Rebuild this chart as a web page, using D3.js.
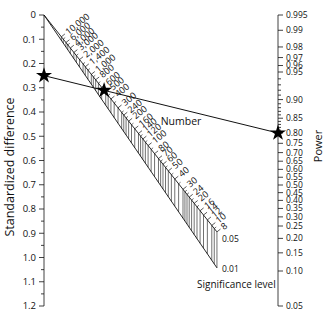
<!DOCTYPE html>
<html>
  <head>
    <meta charset="utf-8">
    <title>Nomogram</title>
    <script src="https://d3js.org/d3.v7.min.js"></script>
    <style>
      body { margin: 0; background: #fff; }
      text { font-family: "Open Sans", "Noto Sans", sans-serif; fill: #111; }
    </style>
  </head>
  <body>
    <div id="chart"></div>
    <script>
        // tick values
        var deltaTicks = [0, 0.1, 0.2, 0.3, 0.4, 0.5, 0.6, 0.7, 0.8, 0.9, 1.0, 1.1, 1.2];
        var deltaMinor = [0.05, 0.15, 0.25, 0.35, 0.45, 0.55, 0.65, 0.75, 0.85, 0.95, 1.05, 1.15];
        var powerTicks = [0.995, 0.99, 0.98, 0.97, 0.96, 0.95, 0.90, 0.85, 0.80, 0.75, 0.70, 0.65,
                          0.60, 0.55, 0.50, 0.45, 0.40, 0.35, 0.30, 0.25, 0.20, 0.15, 0.10, 0.05];
        var powerMinor = [0.94, 0.93, 0.92, 0.91, 0.89, 0.88, 0.87, 0.86, 0.84, 0.83, 0.82, 0.81];
        var nLabels = [10000, 6000, 4000, 3000, 2000, 1400, 1000, 800, 600, 500, 400, 300, 240, 200,
                       160, 140, 120, 100, 80, 70, 60, 50, 40, 30, 24, 20, 16, 14, 12, 10, 8];
        var nMinor = [8000, 5000, 2500, 1600, 1200, 900, 700, 450, 350, 260, 220, 180, 130, 110, 90,
                      65, 55, 45, 35, 28, 26, 22, 18, 9];
        var alphaLevels = ["0.05", "0.01"];
        var exampleDelta = 0.25;
        var examplePower = 0.80;

        var width = 333, height = 318;
        var xL = 44, xR = 278, yTop = 15, yBot = 306;

        // inverse normal cdf, used for the power axis
        function probit(p) {
            var a = [-39.69683028665376, 220.9460984245205, -275.9285104469687, 138.3577518672690, -30.66479806614716, 2.506628277459239];
            var b = [-54.47609879822406, 161.5858368580409, -155.6989798598866, 66.80131188771972, -13.28068155288572];
            var c = [-0.007784894002430293, -0.3223964580411365, -2.400758277161838, -2.549732539343734, 4.374664141464968, 2.938163982698783];
            var d = [0.007784695709041462, 0.3224671290700398, 2.445134137142996, 3.754408661907416];
            var q, r;
            if (p < 0.02425) {
                q = Math.sqrt(-2 * Math.log(p));
                return (((((c[0]*q+c[1])*q+c[2])*q+c[3])*q+c[4])*q+c[5]) / ((((d[0]*q+d[1])*q+d[2])*q+d[3])*q+1);
            }
            if (p > 1 - 0.02425) {
                q = Math.sqrt(-2 * Math.log(1 - p));
                return -(((((c[0]*q+c[1])*q+c[2])*q+c[3])*q+c[4])*q+c[5]) / ((((d[0]*q+d[1])*q+d[2])*q+d[3])*q+1);
            }
            q = p - 0.5; r = q * q;
            return (((((a[0]*r+a[1])*r+a[2])*r+a[3])*r+a[4])*r+a[5])*q / (((((b[0]*r+b[1])*r+b[2])*r+b[3])*r+b[4])*r+1);
        }

        var yDelta = d3.scaleLinear().domain([0, 1.2]).range([yTop, yBot]);
        // power axis is roughly probit; calibrated piecewise to the drawn scale
        var zScale = d3.scaleLinear()
            .domain([0.995, 0.95, 0.80, 0.50, 0.25, 0.10, 0.05].map(probit))
            .range([yTop, 72, 133, 185, 226, 271, yBot]);
        var yPower = function(p) { return zScale(probit(p)); };

        // N scale: fraction along the way from left to right axis
        var kN = 0.1248;
        var xN = d3.scaleLinear().domain([0, 1]).range([xL, xR]);
        var nx = function(n) { return xN(1 / (1 + kN * Math.sqrt(n))); };
        var slope = {"0.05": 1.254, "0.01": 1.462};
        var ny = function(n, a) { return yTop + slope[a] * (nx(n) - xL); };

        var svg = d3.select("#chart").append("svg")
            .attr("width", width)
            .attr("height", height);

        // left axis
        var gl = svg.append("g").attr("stroke", "#111").attr("stroke-width", 0.8);
        gl.append("line").attr("x1", xL).attr("x2", xL).attr("y1", yTop).attr("y2", yBot);
        gl.selectAll(".maj").data(deltaTicks).enter().append("line")
            .attr("x1", xL - 5).attr("x2", xL)
            .attr("y1", d => yDelta(d)).attr("y2", d => yDelta(d));
        gl.selectAll(".min").data(deltaMinor).enter().append("line")
            .attr("x1", xL - 3).attr("x2", xL)
            .attr("y1", d => yDelta(d)).attr("y2", d => yDelta(d));
        svg.selectAll(".dl").data(deltaTicks).enter().append("text")
            .attr("x", xL - 8).attr("y", d => yDelta(d)).attr("dy", "0.35em")
            .attr("text-anchor", "end").style("font-size", "9.5px")
            .text(d => d === 0 ? "0" : d.toFixed(1));
        svg.append("text")
            .attr("transform", "translate(14," + 167 + ") rotate(-90)")
            .attr("text-anchor", "middle").style("font-size", "12.5px")
            .text("Standardized difference");

        // right axis
        var gr = svg.append("g").attr("stroke", "#111").attr("stroke-width", 0.8);
        gr.append("line").attr("x1", xR).attr("x2", xR).attr("y1", yTop).attr("y2", yBot);
        gr.selectAll(".maj").data(powerTicks).enter().append("line")
            .attr("x1", xR).attr("x2", xR + 5)
            .attr("y1", d => yPower(d)).attr("y2", d => yPower(d));
        gr.selectAll(".min").data(powerMinor).enter().append("line")
            .attr("x1", xR).attr("x2", xR + 3)
            .attr("y1", d => yPower(d)).attr("y2", d => yPower(d));
        svg.selectAll(".pl").data(powerTicks).enter().append("text")
            .attr("x", xR + 8).attr("y", d => yPower(d)).attr("dy", "0.35em")
            .style("font-size", "8.5px")
            .text(d => d === 0.995 ? "0.995" : d.toFixed(2));
        svg.append("text")
            .attr("transform", "translate(322," + 146 + ") rotate(-90)")
            .attr("text-anchor", "middle").style("font-size", "11px")
            .text("Power");

        // N lines and hatching
        var allN = nLabels.concat(nMinor);
        var nEnd = d3.min(nLabels);
        var gn = svg.append("g").attr("stroke", "#111").attr("fill", "none");
        alphaLevels.forEach(function(a) {
            gn.append("line").attr("stroke-width", 0.9)
                .attr("x1", xL).attr("y1", yTop)
                .attr("x2", nx(nEnd)).attr("y2", ny(nEnd, a));
        });
        gn.selectAll(".hatch").data(allN).enter().append("line")
            .attr("stroke-width", 0.6)
            .attr("x1", d => nx(d)).attr("x2", d => nx(d))
            .attr("y1", d => ny(d, "0.05")).attr("y2", d => ny(d, "0.01"));

        // ticks and labels along the 0.05 line (normal points up-right)
        var ang = Math.atan(slope["0.05"]);
        var nxN = Math.sin(ang), nyN = -Math.cos(ang);
        var rot = ang * 180 / Math.PI - 90;
        gn.selectAll(".nt").data(nLabels).enter().append("line")
            .attr("stroke-width", 0.7)
            .attr("x1", d => nx(d)).attr("y1", d => ny(d, "0.05"))
            .attr("x2", d => nx(d) + 4.5 * nxN).attr("y2", d => ny(d, "0.05") + 4.5 * nyN);
        gn.selectAll(".nm").data(nMinor).enter().append("line")
            .attr("stroke-width", 0.6)
            .attr("x1", d => nx(d)).attr("y1", d => ny(d, "0.05"))
            .attr("x2", d => nx(d) + 2.5 * nxN).attr("y2", d => ny(d, "0.05") + 2.5 * nyN);
        svg.selectAll(".nl").data(nLabels).enter().append("text")
            .attr("transform", d => "translate(" + (nx(d) + 6.5 * nxN) + "," + (ny(d, "0.05") + 6.5 * nyN) + ") rotate(" + rot + ")")
            .attr("dy", "0.35em").style("font-size", "9px")
            .text(d => d3.format(",")(d));

        // significance labels
        svg.append("text").attr("x", nx(nEnd) + 5).attr("y", ny(nEnd, "0.05") + 10)
            .style("font-size", "8.5px").text(alphaLevels[0]);
        svg.append("text").attr("x", nx(nEnd) + 5).attr("y", ny(nEnd, "0.01") + 4)
            .style("font-size", "8.5px").text(alphaLevels[1]);
        svg.append("text").attr("x", 197).attr("y", 288)
            .style("font-size", "10px").text("Significance level");
        svg.append("text").attr("x", 181).attr("y", 121).attr("dy", "0.35em")
            .attr("text-anchor", "middle").style("font-size", "10.5px").text("Number");

        // worked example: line from delta to power, crossing the 0.05 line
        var p1 = [xL, yDelta(exampleDelta)];
        var p2 = [xR, yPower(examplePower)];
        var m = (p2[1] - p1[1]) / (p2[0] - p1[0]);
        var cx = xL + (p1[1] - yTop) / (slope["0.05"] - m);
        var cy = p1[1] + m * (cx - xL);
        svg.append("line").attr("stroke", "#111").attr("stroke-width", 1)
            .attr("x1", p1[0]).attr("y1", p1[1]).attr("x2", p2[0]).attr("y2", p2[1]);
        var star = d3.symbol().type(d3.symbolStar).size(80);
        svg.selectAll(".star").data([p1, [cx, cy], p2]).enter().append("path")
            .attr("d", star).attr("fill", "#000")
            .attr("transform", d => "translate(" + d[0] + "," + d[1] + ")");
    </script>
  </body>
</html>
